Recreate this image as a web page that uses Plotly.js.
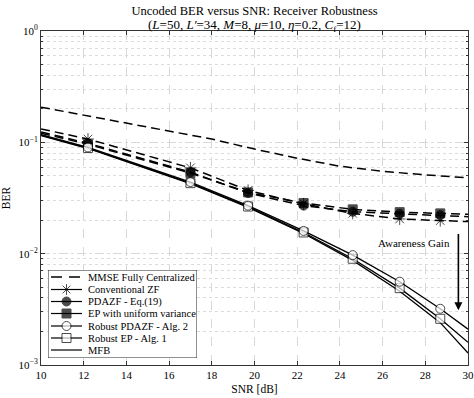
<!DOCTYPE html>
<html>
<head>
<meta charset="utf-8">
<script src="https://cdn.plot.ly/plotly-3.0.1.min.js"></script>
<style>html,body{margin:0;padding:0;background:#fff;}#chart{width:474px;height:398px;}</style>
</head>
<body>
<div id="chart"></div>
<script>
// ---- data ----
const SNR = [10, 12.2, 17, 19.7, 22.3, 24.6, 26.8, 28.7, 30];
const markerShown = [0, 1, 1, 1, 1, 1, 1, 1, 0];
const MMSE_SNR = [10, 12, 14, 16, 18, 20, 22, 24, 26, 28, 30];
const MMSE_BER = [0.207, 0.176, 0.149, 0.127, 0.107, 0.087, 0.072, 0.061, 0.055, 0.051, 0.048];
const ZF_BER = [0.132, 0.107, 0.059, 0.037, 0.028, 0.023, 0.0205, 0.0198, 0.0194];
const PDAZF_BER = [0.124, 0.098, 0.054, 0.035, 0.027, 0.0238, 0.0228, 0.0222, 0.0215];
const EPU_BER = [0.121, 0.096, 0.053, 0.0355, 0.0285, 0.0250, 0.0236, 0.0230, 0.0226];
const RPDAZF_BER = [0.117, 0.090, 0.044, 0.027, 0.0160, 0.0097, 0.0056, 0.0032, 0.0021];
const REP_BER = [0.116, 0.089, 0.043, 0.0265, 0.0155, 0.0090, 0.0049, 0.0026, 0.0016];
const MFB_BER = [0.115, 0.088, 0.0425, 0.026, 0.0152, 0.0087, 0.0046, 0.0024, 0.00128];
const yTickVals = [1e-3, 1e-2, 1e-1, 1];
const yTickText = ['10<sup>−3</sup>', '10<sup>−2</sup>', '10<sup>−1</sup>', '10<sup>0</sup>'];
const xTickVals = [10, 12, 14, 16, 18, 20, 22, 24, 26, 28, 30];
const legendNames = ['MMSE Fully Centralized', 'Conventional ZF', 'PDAZF - Eq.(19)', 'EP with uniform variance', 'Robust PDAZF - Alg. 2', 'Robust EP - Alg. 1', 'MFB'];
const titleLine1 = 'Uncoded BER versus SNR: Receiver Robustness';
const titleLine2 = '(<i>L</i>=50, <i>L′</i>=34, <i>M</i>=8, <i>μ</i>=10, <i>η</i>=0.2, <i>C</i><sub>f</sub>=12)';

const FONT = '"Liberation Serif", "DejaVu Serif", serif';
const DASH = '9px,5px';
const sz = (s) => markerShown.map(v => v * s);

const traces = [];
traces.push({x: MMSE_SNR, y: MMSE_BER, mode: 'lines', line: {color: '#000', width: 1.5, dash: DASH}, showlegend: false});
const mk = (y, sym, fill, size, dashed) => ({
  x: SNR, y: y, mode: 'lines+markers', showlegend: false,
  line: {color: '#000', width: dashed ? 1.5 : 1.3, dash: dashed ? DASH : 'solid'},
  marker: {symbol: sym, size: sz(size), color: fill, line: {color: '#000', width: 1}}
});
traces.push(mk(ZF_BER, 'asterisk-open', '#000', 10, true));
traces.push(mk(PDAZF_BER, 'circle', '#000', 9, true));
traces.push(mk(EPU_BER, 'square', '#000', 9, true));
traces.push({x: SNR, y: MFB_BER, mode: 'lines', line: {color: '#000', width: 1.3}, showlegend: false});
traces.push(mk(REP_BER, 'square', '#fff', 9, false));
traces.push(mk(RPDAZF_BER, 'circle', '#fff', 9, false));

// ---- hand-drawn legend on an overlay axis measured in pixels ----
const LG = {left: 48, right: 197, top: 270, bottom: 358, rows: [277, 289.5, 301.5, 313.5, 326, 338, 350], x0: 51, xm: 66.5, x1: 82, tx: 86};
const legSpec = [
  {sym: 'circle', fill: '#000', marker: false, dash: '11px,7px', w: 1.6},
  {sym: 'asterisk-open', fill: '#000', marker: true},
  {sym: 'circle', fill: '#000', marker: true},
  {sym: 'square', fill: '#000', marker: true},
  {sym: 'circle', fill: '#fff', marker: true},
  {sym: 'square', fill: '#fff', marker: true},
  {sym: 'circle', fill: '#000', marker: false}
];
const legAnn = [];
legSpec.forEach((s, i) => {
  const r = LG.rows[i];
  traces.push({
    x: [LG.x0, LG.xm, LG.x1], y: [r, r, r], xaxis: 'x2', yaxis: 'y2', showlegend: false,
    mode: 'lines+markers', line: {color: '#000', width: s.w || 1.2, dash: s.dash || 'solid'},
    marker: {symbol: s.sym, size: s.marker ? [0, 9, 0] : [0, 0, 0], color: s.fill, line: {color: '#000', width: 1}}
  });
  legAnn.push({x: LG.tx, y: r, xref: 'x2', yref: 'y2', xanchor: 'left', yanchor: 'middle', showarrow: false,
    text: legendNames[i], font: {family: FONT, size: 10.5, color: '#000'}});
});

const W = 474, H = 398, ML = 41, MR = 6, MT = 31, MB = 33;
const PW = W - ML - MR, PH = H - MT - MB;

const layout = {
  width: W, height: H,
  margin: {l: ML, r: MR, t: MT, b: MB},
  paper_bgcolor: '#fff', plot_bgcolor: '#fff',
  font: {family: FONT, color: '#000', size: 11},
  showlegend: false,
  title: {
    text: titleLine1,
    font: {family: FONT, size: 12.5, color: '#000'},
    x: 0.537, xanchor: 'center', y: 1 - 11 / H, yanchor: 'middle'
  },
  xaxis: {
    range: [10, 30], tickvals: xTickVals, ticks: 'inside', ticklen: 4, tickcolor: '#333',
    showline: true, linecolor: '#333', linewidth: 1, mirror: 'ticks',
    showgrid: true, gridcolor: '#d8d8d8', griddash: 'dash', gridwidth: 1, zeroline: false,
    tickfont: {family: FONT, size: 11},
    title: {text: 'SNR [dB]', font: {family: FONT, size: 11.5}, standoff: 4}
  },
  yaxis: {
    type: 'log', range: [-3, 0], tickvals: yTickVals, ticktext: yTickText,
    ticks: 'inside', ticklen: 4, tickcolor: '#333',
    showline: true, linecolor: '#333', linewidth: 1, mirror: 'ticks',
    showgrid: true, gridcolor: '#d8d8d8', griddash: 'dash', gridwidth: 1, zeroline: false,
    tickfont: {family: FONT, size: 11},
    minor: {dtick: 'D1', ticks: 'inside', ticklen: 2, tickcolor: '#333', showgrid: true, gridcolor: '#dcdcdc', griddash: 'dot', gridwidth: 1},
    title: {text: 'BER', font: {family: FONT, size: 11.5}, standoff: 6}
  },
  xaxis2: {domain: [(LG.left - ML) / PW, (LG.right - ML) / PW], range: [LG.left, LG.right], anchor: 'y2',
    visible: false, showgrid: false, zeroline: false, fixedrange: true},
  yaxis2: {domain: [(H - MB - LG.bottom) / PH, (H - MB - LG.top) / PH], range: [LG.bottom, LG.top], anchor: 'x2',
    visible: false, showgrid: false, zeroline: false, fixedrange: true},
  shapes: [
    {type: 'rect', xref: 'x2', yref: 'y2', x0: LG.left, x1: LG.right, y0: LG.bottom, y1: LG.top,
     line: {color: '#222', width: 1}, fillcolor: '#fff', layer: 'between'}
  ],
  annotations: [
    {x: 0.5, y: (H - MB - 25.5) / PH, xref: 'paper', yref: 'paper', xanchor: 'center', yanchor: 'middle',
     showarrow: false, text: titleLine2, font: {family: FONT, size: 13, color: '#000'}},
    {x: 29.55, y: Math.log10(0.0031), ax: 29.55, ay: Math.log10(0.0155), xref: 'x', yref: 'y', axref: 'x', ayref: 'y',
     showarrow: true, arrowhead: 2, arrowsize: 1, arrowwidth: 1.6, arrowcolor: '#000', text: ''},
    {x: 27.45, y: Math.log10(0.0125), xref: 'x', yref: 'y', text: 'Awareness Gain', showarrow: false,
     font: {family: FONT, size: 11, color: '#000'}}
  ].concat(legAnn)
};
Plotly.newPlot('chart', traces, layout, {displayModeBar: false, staticPlot: true});
</script>
</body>
</html>
